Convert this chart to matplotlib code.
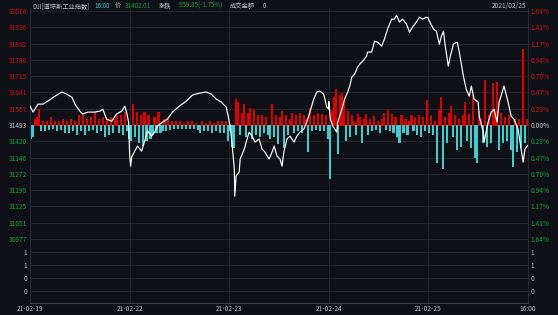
import numpy as np
import matplotlib
matplotlib.use("Agg")
from matplotlib import pyplot as plt

plt.rcParams['font.family'] = ['Noto Sans CJK SC', 'DejaVu Sans']

# --- data -----------------------------------------------------------------
base_price = 31493.34
dates = ['21-02-19', '21-02-22', '21-02-23', '21-02-24', '21-02-25', '16:00']

price_ticks = [32010, 31936, 31862, 31788, 31715, 31641, 31567, 31493,
               31420, 31346, 31272, 31198, 31125, 31051, 30977]
pct_labels = ['1.64%', '1.41%', '1.17%', '0.94%', '0.70%', '0.47%', '0.23%', '0.00%',
              '0.23%', '0.47%', '0.70%', '0.94%', '1.17%', '1.41%', '1.64%']
vol_ticks = [1.0, 0.75, 0.5, 0.25]

# minute of session (0-390) and price, one list per day
day1_min = [0, 12, 31, 51, 70, 98, 125, 144, 164, 176, 195, 207, 226, 254, 273, 285, 300, 320, 339, 359, 371, 378, 386]
day1_px = [31579, 31552, 31588, 31588, 31602, 31624, 31643, 31633, 31620, 31588, 31556, 31543, 31552, 31552, 31556, 31565, 31520, 31511, 31543, 31556, 31579, 31552, 31507]
day2_min = [0, 4, 8, 20, 31, 47, 59, 70, 86, 98, 109, 129, 148, 168, 195, 222, 246, 273, 300, 320, 339, 359, 378, 386]
day2_px = [31362, 31307, 31348, 31375, 31398, 31375, 31421, 31466, 31443, 31461, 31488, 31507, 31520, 31552, 31579, 31602, 31629, 31638, 31643, 31633, 31611, 31597, 31575, 31534]
day3_min = [0, 4, 12, 20, 22, 27, 39, 43, 59, 70, 78, 90, 101, 117, 129, 140, 156, 168, 176, 187, 199, 207, 214, 226, 238, 254, 265, 277, 292, 304, 316, 331, 343, 355, 370, 382, 390]
day3_px = [31507, 31488, 31398, 31294, 31171, 31262, 31280, 31339, 31384, 31430, 31461, 31443, 31416, 31430, 31384, 31371, 31339, 31371, 31398, 31353, 31339, 31307, 31371, 31430, 31443, 31416, 31443, 31461, 31475, 31507, 31552, 31611, 31643, 31647, 31633, 31575, 31565]
day4_min = [0, 6, 16, 31, 35, 51, 62, 74, 82, 90, 101, 113, 121, 133, 148, 152, 168, 179, 191, 207, 218, 230, 246, 257, 265, 277, 289, 304, 316, 328, 343, 355, 367, 382, 390]
day4_px = [31600, 31520, 31488, 31461, 31507, 31565, 31611, 31643, 31670, 31710, 31724, 31756, 31769, 31783, 31806, 31824, 31824, 31873, 31869, 31851, 31883, 31928, 31973, 31973, 31991, 31960, 31973, 31951, 31914, 31937, 31960, 31982, 31973, 31982, 31978]
day5_min = [0, 20, 31, 43, 51, 59, 66, 78, 86, 98, 113, 121, 137, 148, 160, 168, 179, 195, 199, 215, 218, 234, 246, 257, 269, 277, 292, 296, 312, 324, 335, 351, 363, 371, 378, 390]
day5_px = [31973, 31928, 31919, 31860, 31896, 31919, 31851, 31760, 31806, 31860, 31869, 31824, 31715, 31656, 31624, 31670, 31611, 31597, 31534, 31461, 31416, 31507, 31552, 31565, 31507, 31597, 31656, 31670, 31597, 31534, 31520, 31475, 31384, 31325, 31384, 31402]

# change bars (index points), 50 per day
day1_bars = [-63, -54, 23, 36, 72, -27, 18, -23, 14, -18, 32, -14, 18, -23, 14, -18, 23, -32, 18, -36,
             27, -23, 18, -41, 41, -27, 41, -45, 23, -27, 32, -18, 59, -32, 23, -23, 36, -54, 23, -41,
             32, -36, 23, 41, -36, 45, -41, 59, -27, -63]
day2_bars = [-72, 95, -54, 59, -77, 45, -91, 59, -68, 45, -59, -45, 36, -36, 59, -32, -27, 27, -23, 27,
             -18, 18, -14, 14, -14, 18, -14, 9, -14, 14, -14, 18, -14, 9, -18, -32, 14, -23, 9, -27,
             14, -36, 9, -27, 14, -36, 18, -32, 14, -72]
day3_bars = [-27, -95, -100, 118, 100, -45, 54, 95, -50, 54, 77, -59, 72, -45, 41, -50, 45, -36, 32, -45,
             -63, 95, -50, 41, -82, 32, 63, -104, 41, -41, 27, 54, -36, 41, -27, 54, -32, 45, 23, -118,
             77, -27, 41, -18, 54, -23, 50, -27, 41, -59]
day4_bars = [-240, 68, 127, 159, -127, 136, 145, 100, -68, 63, -50, 45, 18, -41, 50, 36, -77, 27, 50, -45,
             23, -27, 41, -18, 18, -32, 23, 54, -18, 68, -27, 50, -32, 36, -54, -77, 45, -36, 27, -45,
             18, 45, -27, 32, -45, 45, -50, 36, -23, 113]
day5_bars = [-36, 41, -45, 18, -168, 68, 127, -195, 32, -77, 54, 82, -50, 41, -113, 27, -95, 41, 104, -68,
             50, -100, 136, -145, -172, 63, 23, -77, 204, -95, 41, -77, 190, 54, 195, -113, 54, -77, 32, -68,
             45, -113, -190, 27, -122, 23, -100, 340, -77, 27]

# --- figure ---------------------------------------------------------------
bg = '#0e1016'
grid_c = '#262a33'
red_c = '#c8161d'
green_c = '#16a14a'
gray_c = '#c0c0c0'

W, H = 558, 315
fig = plt.figure(figsize=(W / 100, H / 100), dpi=100, facecolor=bg)

ax = fig.add_axes([30 / W, (H - 245) / H, 498 / W, 237 / H], facecolor=bg)
axv = fig.add_axes([30 / W, (H - 303) / H, 498 / W, 58 / H], facecolor=bg)

line_x, line_y, bar_x, bar_v = [], [], [], []
days_min = [day1_min, day2_min, day3_min, day4_min, day5_min]
days_px = [day1_px, day2_px, day3_px, day4_px, day5_px]
days_bars = [day1_bars, day2_bars, day3_bars, day4_bars, day5_bars]
for d in range(5):
    line_x += [d + m / 390 for m in days_min[d]]
    line_y += days_px[d]
    n = len(days_bars[d])
    bar_x += [d + (i + 0.5) / n for i in range(n)]
    bar_v += days_bars[d]
bar_x = np.array(bar_x)
bar_v = np.array(bar_v)

up = bar_v > 0
ax.bar(bar_x[up], bar_v[up], bottom=base_price, width=0.011, color='#e00000',
       linewidth=0, antialiased=False, snap=False, zorder=2)
ax.bar(bar_x[~up], bar_v[~up], bottom=base_price, width=0.011, color='#3ccfd0',
       linewidth=0, antialiased=False, snap=False, zorder=2)
ax.plot(line_x, line_y, color='white', lw=0.85, zorder=3)

# price axes
ax.set_xlim(0, 5)
ax.set_ylim(30949.8, 32023.6)
ax.set_yticks(price_ticks)
ax.set_yticklabels([str(t) for t in price_ticks])
ax.set_xticks([1, 2, 3, 4])
ax.tick_params(axis='x', length=0, labelbottom=False)
ax.tick_params(axis='y', length=0, pad=2, labelsize=4.8)
ax.grid(True, color=grid_c, lw=0.6, zorder=0)
for i, lab in enumerate(ax.get_yticklabels()):
    lab.set_color(red_c if i < 7 else (gray_c if i == 7 else green_c))

axr = ax.twinx()
axr.set_ylim(ax.get_ylim())
axr.set_yticks(price_ticks)
axr.set_yticklabels(pct_labels)
axr.tick_params(axis='y', length=0, pad=2, labelsize=4.8)
for i, lab in enumerate(axr.get_yticklabels()):
    lab.set_color(red_c if i < 7 else (gray_c if i == 7 else green_c))

for a in (ax, axr):
    for s in a.spines.values():
        s.set_visible(False)
ax.spines['left'].set_visible(True)
ax.spines['left'].set_color(grid_c)
ax.spines['right'].set_visible(True)
ax.spines['right'].set_color(grid_c)

# volume axes (empty)
axv.set_xlim(0, 5)
axv.set_ylim(0.02, 1.135)
axv.set_yticks(vol_ticks)
axv.set_yticklabels(['%.0f' % v for v in vol_ticks])
axv.set_xticks(range(6))
axv.set_xticklabels(dates)
axv.tick_params(axis='both', length=0, labelsize=4.8, colors=gray_c)
axv.tick_params(axis='x', pad=1.5)
axv.tick_params(axis='y', pad=2, labelright=True)
axv.grid(True, color=grid_c, lw=0.6)
for s in axv.spines.values():
    s.set_color(grid_c)
axv.spines['top'].set_visible(False)
axv.spines['bottom'].set_color('#3a3e47')

# header
hy = 1 - 6 / H
header = [(32, 'DJI[道琼斯工业指数]', gray_c), (94, '16:00', '#3cc8d0'), (115, '价', gray_c),
          (125, '31402.01', green_c), (159, '涨跌', gray_c), (178, '-559.85(-1.75%)', green_c),
          (230, '成交金额', gray_c), (263, '0', gray_c)]
for px, txt, c in header:
    fig.text(px / W, hy, txt, color=c, fontsize=4.5, va='center', ha='left')
fig.text(526 / W, hy, '2021/02/25', color=gray_c, fontsize=4.8, va='center', ha='right')

plt.savefig('out.png', dpi=100, facecolor=bg)
